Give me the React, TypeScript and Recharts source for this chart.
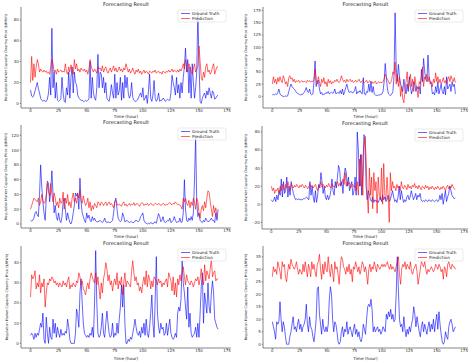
import React from 'react';
import { LineChart, Line, XAxis, YAxis } from 'recharts';

// hourly index for one week of forecasts
const hours = Array.from({ length: 168 }, (_, i) => i);
const xTicks = [0, 25, 50, 75, 100, 125, 150, 175];

// ---- top left
const truth1 = [
  13, 7, 6, 8, 12, 16, 20, 14, 10, 5, 3, 2,
  3, 2, 2, 4, 10, 25, 8, 72, 15, 30, 5, 20,
  3, 2, 3, 4, 25, 10, 2, 1, 15, 8, 30, 5,
  25, 35, 10, 30, 20, 18, 8, 5, 4, 3, 3, 2,
  2, 3, 2, 3, 4, 40, 5, 25, 10, 5, 3, 15,
  47, 15, 30, 28, 15, 25, 10, 20, 5, 3, 2, 8,
  18, 10, 5, 28, 5, 20, 8, 12, 25, 3, 20, 5,
  27, 15, 25, 10, 5, 8, 20, 6, 3, 2, 2, 3,
  5, 8, 10, 6, 15, 3, 5, 8, 0, 12, 28, 5,
  2, 8, 22, 5, 2, 4, 10, 2, 3, 3, 5, 4,
  2, 3, 4, 3, 3, 10, 27, 20, 15, 8, 25, 10,
  18, 5, 20, 10, 25, 35, 53, 30, 42, 10, 35, 5,
  38, 20, 5, 15, 30, 88, 40, 2, 0, 5, 8, 10,
  5, 12, 8, 15, 10, 5, 12, 10, 4, 5, 7, 8,
];
const pred1 = [
  20, 45, 22, 38, 25, 35, 42, 38, 30, 33, 31, 30,
  32, 30, 31, 29, 30, 28, 35, 42, 38, 30, 32, 28,
  33, 30, 31, 32, 30, 31, 30, 38, 30, 28, 35, 30,
  37, 32, 28, 42, 33, 38, 31, 33, 30, 34, 32, 31,
  33, 30, 32, 28, 33, 42, 36, 32, 30, 33, 31, 29,
  35, 33, 34, 31, 36, 30, 33, 35, 31, 29, 32, 34,
  30, 33, 36, 31, 34, 30, 32, 35, 31, 33, 30, 34,
  32, 38, 34, 30, 33, 29, 31, 34, 30, 28, 32, 30,
  33, 29, 31, 28, 30, 32, 29, 31, 30, 28, 31, 30,
  29, 31, 30, 32, 29, 30, 31, 29, 30, 28, 31, 30,
  29, 31, 30, 32, 30, 31, 33, 30, 32, 31, 30, 32,
  30, 33, 31, 34, 38, 33, 42, 35, 30, 38, 35, 31,
  28, 33, 38, 30, 33, 35, 55, 40, 25, 22, 30, 25,
  35, 38, 30, 32, 28, 30, 35, 38, 28, 32, 35, 35,
];

// ---- top right
const truth2 = [
  3, 4, 3, 5, 4, 8, 15, 5, 2, 1, 0, 0,
  1, 0, 1, 10, 18, 25, 20, 17, 15, 12, 8, 6,
  5, 4, 3, 4, 5, 8, 12, 18, 10, 8, 15, 5,
  3, 5, 30, 72, 20, 30, 33, 15, 5, 8, 3, 4,
  5, 8, 6, 10, 5, 7, 9, 6, 8, 15, 5, 7,
  8, 6, 12, 5, 15, 3, 10, 18, 25, 15, 8, 9,
  10, 7, 8, 12, 20, 5, 10, 8, 12, 7, 5, 38,
  5, 3, 10, 8, 25, 10, 30, 8, 20, 5, 3, 2,
  2, 3, 3, 4, 5, 10, 30, 67, 40, 15, 5, 3,
  2, 5, 10, 40, 170, 60, 30, 65, 40, 25, 20, 10,
  35, 15, 5, 25, 10, 40, 20, 5, 15, 30, 25, 10,
  20, 15, 20, 5, 55, 30, 77, 50, 35, 30, 84, 40,
  30, 25, 5, 8, 3, 20, 8, 30, 5, 15, 25, 10,
  5, 20, 3, 40, 15, 20, 25, 10, 30, 20, 25, 5,
];
const pred2 = [
  25, 40, 28, 35, 25, 38, 30, 40, 32, 28, 42, 35,
  25, 30, 20, 38, 42, 35, 38, 30, 35, 28, 32, 30,
  33, 28, 30, 32, 29, 31, 30, 28, 33, 30, 32, 29,
  31, 30, 35, 55, 35, 25, 40, 30, 20, 35, 28, 38,
  25, 30, 20, 35, 27, 32, 25, 30, 28, 33, 30, 35,
  30, 28, 32, 42, 35, 30, 33, 28, 35, 30, 32, 35,
  30, 33, 28, 30, 33, 29, 31, 35, 30, 28, 32, 30,
  28, 30, 33, 27, 30, 32, 28, 30, 26, 29, 31, 25,
  28, 30, 27, 29, 28, 30, 35, 45, 38, 35, 30, 25,
  28, 35, 50, 45, 70, 25, 45, 20, 40, 0, 20, -5,
  -13, 10, 30, 50, 15, 30, 45, 20, 35, 10, 40, 25,
  15, -2, 30, 25, 40, 60, 20, 40, 35, 45, 30, 40,
  25, 30, 20, 35, 28, 48, 30, 40, 28, 35, 25, 30,
  38, 28, 32, 25, 35, 40, 30, 42, 35, 30, 38, 28,
];

// ---- middle left
const truth3 = [
  5, 4, 5, 8, 15, 17, 12, 10, 40, 80, 50, 30,
  15, 5, 35, 58, 55, 30, 45, 72, 40, 15, 25, 10,
  5, 15, 5, 2, 10, 30, 35, 20, 5, 15, 8, 2,
  0, 5, 15, 25, 42, 38, 42, 20, 62, 30, 15, 10,
  5, 2, 15, 8, 12, 5, 3, 10, 5, 8, 4, 3,
  3, 4, 5, 3, 2, 4, 8, 3, 2, 3, 2, 2,
  3, 5, 15, 30, 35, 20, 8, 5, 3, 5, 15, 10,
  3, 4, 5, 3, 2, 3, 3, 2, 2, 4, 5, 4,
  3, 5, 10, 12, 15, 5, 2, 1, 0, 1, 0, 2,
  1, 0, 2, 3, 1, 8, 14, 10, 3, 5, 10, 3,
  2, 3, 5, 4, 8, 2, 3, 5, 10, 5, 2, 3,
  3, 8, 2, 3, 15, 60, 20, 5, 3, 8, 5, 10,
  5, 15, 60, 118, 30, 10, 15, 5, 3, 2, 5, 3,
  8, 5, 3, 4, 5, 8, 5, 5, 2, 15, 5, 20,
];
const pred3 = [
  20, 25, 30, 35, 33, 32, 30, 35, 25, 30, 40, 32,
  28, 30, 40, 55, 45, 38, 55, 40, 30, 42, 35, 25,
  30, 22, 35, 28, 30, 43, 20, 35, 28, 40, 25, 30,
  22, 35, 42, 30, 35, 28, 40, 35, 45, 32, 28, 38,
  30, 25, 28, 35, 22, 30, 18, 25, 20, 28, 25, 22,
  30, 28, 25, 30, 28, 25, 28, 30, 25, 28, 30, 26,
  28, 25, 22, 30, 32, 28, 25, 27, 26, 24, 28, 30,
  25, 27, 24, 26, 28, 25, 27, 26, 29, 25, 27, 28,
  26, 24, 27, 29, 28, 25, 27, 26, 28, 25, 26, 28,
  27, 25, 26, 28, 27, 26, 28, 27, 25, 26, 28, 27,
  25, 27, 26, 28, 29, 27, 26, 28, 27, 30, 28, 26,
  27, 25, 24, 20, 35, 30, 35, 28, 25, 32, 22, 30,
  25, 35, 30, 20, 35, 30, 15, 8, 20, 25, 18, 30,
  22, 35, 45, 43, 30, 20, 10, 25, 15, 22, 10, 8,
];

// ---- middle right
const truth4 = [
  5, 3, 4, 8, 3, 10, 5, 15, 10, 28, 8, 25,
  12, 15, 30, 8, 20, 10, 25, 18, 12, 8, 5, 6,
  5, 6, 5, 5, 5, 6, 6, 7, 8, 6, 5, 25,
  10, 20, 8, 2, 15, 2, 10, 22, 18, 35, 25, 12,
  20, 8, 5, 10, 5, 8, 15, 28, 15, 10, 25, 18,
  30, 43, 38, 20, 25, 12, 30, 40, 35, 20, 30, 15,
  20, 25, 10, 15, 30, 10, 80, 60, 20, 55, 10, 35,
  77, 75, 20, 5, 15, 10, 5, 3, 8, 2, 5, 3,
  4, 2, 5, 8, 3, 10, 5, 8, 3, 5, 10, 3,
  5, 10, 15, 8, 3, 5, 2, 8, 20, 5, 15, 8,
  2, 5, 3, 8, 10, 5, 8, 15, 10, 5, 8, 12,
  5, 10, 8, 12, 5, 3, 4, 3, 5, 4, 3, 5,
  4, 3, 5, 4, 3, 4, 5, 3, 4, 10, 5, 12,
  0, 8, 15, 3, 8, 12, 20, 15, 10, 8, 6, 7,
];
const pred4 = [
  20, 15, 18, 12, 16, 15, 18, 12, 20, 15, 22, 18,
  15, 22, 18, 25, 20, 15, 22, 20, 18, 21, 19, 22,
  20, 18, 21, 19, 22, 20, 18, 21, 19, 17, 20, 22,
  19, 21, 18, 20, 22, 18, 15, 20, 21, 25, 19, 22,
  20, 18, 21, 19, 23, 20, 18, 22, 20, 19, 21, 22,
  25, 20, 23, 21, 24, 28, 22, 35, 20, 25, 22, 24,
  18, 21, 22, 19, 20, 15, 25, 10, 50, 20, 55, 10,
  60, 75, 50, 10, -10, 40, 10, 30, -5, 35, 15, 25,
  -10, 30, 10, 5, 40, 0, 45, 10, 5, 30, 10, -20,
  35, 15, 25, 18, 20, 15, 22, 18, 20, 15, 25, 18,
  17, 21, 19, 16, 22, 18, 20, 17, 21, 19, 23, 18,
  20, 17, 21, 18, 16, 20, 19, 17, 21, 18, 20, 16,
  19, 17, 20, 18, 16, 19, 17, 20, 18, 16, 19, 17,
  20, 18, 15, 19, 21, 17, 20, 18, 22, 19, 17, 16,
];

// ---- bottom left
const truth5 = [
  4, 5, 4, 2, 5, 3, 5, 4, 7, 10, 8, 15,
  2, 0, 13, 5, 0, 8, 3, 2, 12, 5, 10, 3,
  8, 5, 3, 7, 4, 5, 4, 6, 5, 12, 8, 2,
  0, 0, 0, 0, 5, 17, 14, 8, 25, 32, 20, 10,
  5, 4, 3, 4, 3, 5, 4, 8, 3, 20, 46, 20,
  5, 3, 4, 8, 15, 5, 3, 10, 16, 10, 5, 3,
  4, 10, 3, 5, 4, 10, 5, 12, 18, 29, 18, 29,
  10, 0, 0, 2, 1, 3, 2, 5, 8, 12, 8, 5,
  4, 6, 3, 8, 5, 10, 4, 12, 5, 3, 8, 15,
  24, 10, 3, 22, 43, 15, 8, 5, 10, 7, 8, 4,
  5, 10, 4, 8, 12, 5, 3, 2, 3, 5, 3, 15,
  18, 16, 22, 41, 30, 25, 18, 12, 28, 8, 15, 5,
  3, 4, 5, 8, 3, 10, 3, 15, 28, 35, 10, 25,
  20, 15, 30, 18, 15, 25, 31, 25, 12, 10, 8, 7,
];
const pred5 = [
  23, 34, 32, 33, 36, 27, 30, 28, 34, 25, 30, 28,
  32, 18, 25, 30, 29, 32, 31, 33, 32, 30, 31, 29,
  30, 28, 30, 29, 28, 31, 29, 30, 28, 31, 33, 27,
  29, 28, 30, 29, 28, 31, 30, 35, 33, 29, 31, 27,
  26, 24, 28, 30, 27, 32, 35, 33, 31, 30, 35, 29,
  33, 27, 22, 30, 25, 32, 35, 40, 37, 31, 34, 29,
  31, 26, 30, 32, 29, 35, 27, 31, 29, 33, 24, 30,
  35, 28, 31, 30, 29, 28, 36, 41, 35, 31, 33, 29,
  30, 26, 28, 25, 30, 33, 29, 36, 28, 34, 32, 27,
  31, 28, 33, 32, 31, 29, 32, 30, 31, 28, 30, 29,
  31, 32, 28, 35, 33, 31, 26, 33, 24, 30, 23, 32,
  29, 34, 31, 35, 38, 33, 29, 34, 31, 30, 29, 31,
  30, 28, 30, 32, 31, 33, 29, 32, 37, 33, 29, 39,
  31, 36, 34, 32, 37, 42, 33, 35, 36, 31, 32, 32,
];

// ---- bottom right
const truth6 = [
  9, 7, 5, 2, 9, 8, 9, 17, 10, 5, 9, 7,
  3, 0, 0, 0, 3, 5, 8, 11, 6, 7, 5, 8,
  10, 6, 8, 5, 7, 8, 10, 16, 8, 5, 11, 7,
  6, 3, 1, 5, 10, 22, 23, 12, 8, 4, 10, 6,
  5, 7, 5, 8, 18, 23, 20, 10, 5, 9, 8, 5,
  1, 0, 1, 5, 7, 3, 6, 5, 9, 4, 6, 7,
  5, 3, 6, 8, 4, 6, 3, 5, 2, 1, 3, 8,
  6, 4, 10, 15, 16, 15, 18, 14, 5, 7, 5, 6,
  7, 5, 6, 4, 5, 7, 6, 5, 12, 10, 13, 11,
  14, 10, 12, 9, 10, 20, 35, 22, 10, 7, 8, 5,
  11, 6, 3, 6, 4, 7, 5, 8, 10, 15, 12, 7,
  11, 8, 5, 3, 7, 9, 5, 8, 6, 4, 7, 9,
  5, 8, 6, 10, 5, 9, 12, 6, 13, 8, 4, 1,
  0, 1, 5, 3, 2, 7, 9, 10, 8, 5, 6, 7,
];
const pred6 = [
  27, 31, 29, 30, 28, 33, 31, 29, 26, 33, 31, 32,
  27, 25, 29, 32, 30, 34, 32, 31, 30, 31, 33, 30,
  28, 30, 29, 28, 32, 29, 33, 30, 27, 32, 30, 27,
  33, 30, 32, 29, 27, 32, 33, 36, 30, 26, 32, 28,
  33, 30, 29, 35, 30, 27, 32, 29, 25, 33, 30, 31,
  28, 24, 31, 35, 34, 31, 30, 28, 31, 29, 32, 28,
  30, 25, 31, 30, 33, 31, 29, 31, 28, 30, 33, 32,
  29, 31, 28, 24, 30, 32, 29, 31, 30, 33, 31, 29,
  32, 31, 30, 31, 32, 31, 32, 31, 32, 33, 31, 30,
  32, 30, 31, 30, 29, 31, 33, 35, 28, 24, 30, 32,
  31, 33, 30, 32, 31, 30, 33, 29, 28, 30, 31, 32,
  29, 24, 27, 30, 33, 32, 31, 33, 30, 28, 30, 29,
  30, 31, 30, 29, 30, 32, 31, 30, 32, 31, 29, 30,
  26, 31, 30, 27, 32, 33, 31, 30, 32, 31, 31, 30,
];

const yTicks1 = [0, 20, 40, 60, 80];
const yTicks2 = [0, 25, 50, 75, 100, 125, 150, 175];
const yTicks3 = [0, 20, 40, 60, 80, 100, 120];
const yTicks4 = [-20, 0, 20, 40, 60, 80];
const yTicks5 = [0, 10, 20, 30, 40];
const yTicks6 = [0, 5, 10, 15, 20, 25, 30, 35];

const TITLE = 'Forecasting Result';
const X_LABEL = 'Time (hour)';
const Y_LABEL = 'Regulation Market Capacity Clearing Price ($/MWh)';
const NAMES = ['Ground Truth', 'Prediction'];

const FONT = '"DejaVu Sans", sans-serif';
const INK = '#333';
const BLUE = '#0000ff';
const RED = '#ff0000';
const X_DOMAIN: [number, number] = [-8.5, 178.5];
const W = 237;
const RIGHT = 6;

const Panel = ({ truth, pred, yDomain, yTicks, x0, y0, h, left, top, bottom, ylabX, xlabY }: any) => {
  const data = hours.map((t, i) => ({ t, truth: truth[i], pred: pred[i] }));
  const pr = W - RIGHT;
  const cx = (left + pr) / 2;
  const cy = (top + h - bottom) / 2;
  const lw = 48;
  const lx = pr - 5 - lw;
  const ly = top + 3;
  const tickStyle = { fontSize: 4, fill: INK };

  return (
    <div style={{ position: 'absolute', left: x0, top: y0, width: W, height: h }}>
      <LineChart
        width={W}
        height={h}
        data={data}
        margin={{ top, right: RIGHT, left: 0, bottom: 0 }}
        style={{ fontFamily: FONT }}
      >
        <XAxis
          dataKey="t"
          type="number"
          domain={X_DOMAIN}
          ticks={xTicks}
          interval={0}
          allowDataOverflow
          height={bottom}
          tickSize={1.3}
          tickMargin={0.3}
          tick={tickStyle}
          axisLine={{ stroke: INK, strokeWidth: 0.6 }}
          tickLine={{ stroke: INK, strokeWidth: 0.5 }}
        />
        <XAxis
          xAxisId="top"
          orientation="top"
          dataKey="t"
          type="number"
          domain={X_DOMAIN}
          allowDataOverflow
          height={0}
          tick={false}
          tickLine={false}
          axisLine={{ stroke: INK, strokeWidth: 0.6 }}
        />
        <YAxis
          type="number"
          domain={yDomain}
          ticks={yTicks}
          interval={0}
          allowDataOverflow
          width={left}
          tickSize={1.3}
          tickMargin={0.8}
          tick={tickStyle}
          axisLine={{ stroke: INK, strokeWidth: 0.6 }}
          tickLine={{ stroke: INK, strokeWidth: 0.5 }}
        />
        <YAxis
          yAxisId="right"
          orientation="right"
          type="number"
          domain={yDomain}
          allowDataOverflow
          width={0}
          tick={false}
          tickLine={false}
          axisLine={{ stroke: INK, strokeWidth: 0.6 }}
        />
        <Line
          dataKey="truth"
          name={NAMES[0]}
          stroke={BLUE}
          strokeOpacity={0.6}
          strokeWidth={1}
          dot={false}
          isAnimationActive={false}
        />
        <Line
          dataKey="pred"
          name={NAMES[1]}
          stroke={RED}
          strokeOpacity={0.6}
          strokeWidth={1}
          dot={false}
          isAnimationActive={false}
        />
      </LineChart>
      {/* title, axis labels and legend */}
      <svg
        width={W}
        height={h}
        style={{ position: 'absolute', left: 0, top: 0, overflow: 'visible', pointerEvents: 'none', fontFamily: FONT }}
      >
        <text x={cx} y={top - 1.5} textAnchor="middle" fontSize={5} fill="#222">{TITLE}</text>
        <text x={cx} y={xlabY} textAnchor="middle" fontSize={4.2} fill="#222">{X_LABEL}</text>
        <text
          x={ylabX}
          y={cy}
          textAnchor="middle"
          dominantBaseline="central"
          fontSize={3.4}
          fill="#222"
          transform={`rotate(-90 ${ylabX} ${cy})`}
        >
          {Y_LABEL}
        </text>
        <rect x={lx} y={ly} width={lw} height={12} rx={1.2} fill="#fff" fillOpacity={0.8} stroke="#ccc" strokeWidth={0.4} />
        <line x1={lx + 3} x2={lx + 12} y1={ly + 3.5} y2={ly + 3.5} stroke={BLUE} strokeOpacity={0.6} strokeWidth={1} />
        <line x1={lx + 3} x2={lx + 12} y1={ly + 8.5} y2={ly + 8.5} stroke={RED} strokeOpacity={0.6} strokeWidth={1} />
        <text x={lx + 14} y={ly + 3.5} dominantBaseline="central" fontSize={4.2} fill="#222">{NAMES[0]}</text>
        <text x={lx + 14} y={ly + 8.5} dominantBaseline="central" fontSize={4.2} fill="#222">{NAMES[1]}</text>
      </svg>
    </div>
  );
};

const App = () => (
  <div style={{ position: 'absolute', left: 0, top: 0, width: 474, height: 364, background: '#fff', overflow: 'hidden' }}>
    <Panel truth={truth1} pred={pred1} yDomain={[-4.4, 92.4]} yTicks={yTicks1}
      x0={0} y0={0} h={118} left={21} top={7} bottom={10} ylabX={6} xlabY={118.3} />
    <Panel truth={truth2} pred={pred2} yDomain={[-23.6, 181.9]} yTicks={yTicks2}
      x0={237} y0={0} h={118} left={26} top={7} bottom={10} ylabX={9} xlabY={118.3} />
    <Panel truth={truth3} pred={pred3} yDomain={[-5.4, 134]} yTicks={yTicks3}
      x0={0} y0={118} h={120} left={21} top={7} bottom={10} ylabX={6} xlabY={119.6} />
    <Panel truth={truth4} pred={pred4} yDomain={[-27.4, 86.6]} yTicks={yTicks4}
      x0={237} y0={118} h={120} left={25} top={8} bottom={9} ylabX={9} xlabY={119.6} />
    <Panel truth={truth5} pred={pred5} yDomain={[-2.3, 48.3]} yTicks={yTicks5}
      x0={0} y0={238} h={126} left={21} top={8} bottom={16} ylabX={7} xlabY={121.5} />
    <Panel truth={truth6} pred={pred6} yDomain={[-1.5, 39.3]} yTicks={yTicks6}
      x0={237} y0={238} h={126} left={26} top={8} bottom={16} ylabX={9} xlabY={121.5} />
  </div>
);

export default App;
